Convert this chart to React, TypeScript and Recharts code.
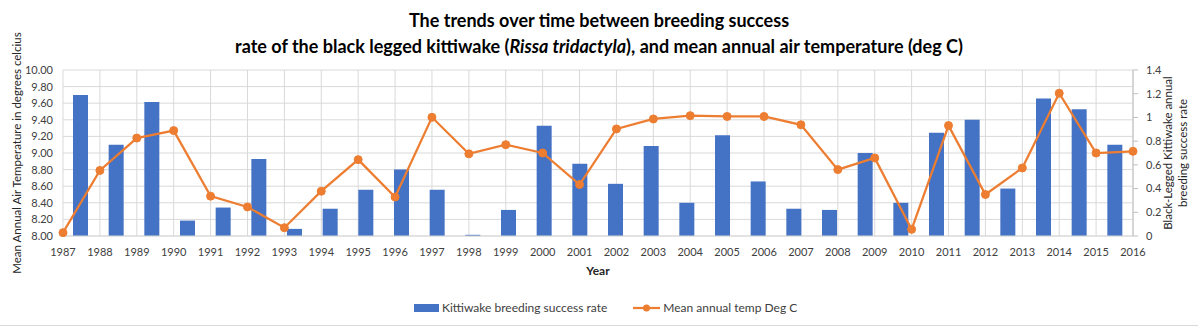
import {
  ComposedChart,
  Bar,
  Line,
  XAxis,
  YAxis,
  CartesianGrid,
  Label,
} from "recharts";

// ── data ──
const years = [
  1987, 1988, 1989, 1990, 1991, 1992, 1993, 1994, 1995, 1996, 1997, 1998, 1999, 2000, 2001,
  2002, 2003, 2004, 2005, 2006, 2007, 2008, 2009, 2010, 2011, 2012, 2013, 2014, 2015, 2016,
];
const breedingRate = [
  1.19, 0.77, 1.13, 0.13, 0.24, 0.65, 0.06, 0.23, 0.39, 0.56, 0.39, 0.01, 0.22, 0.93, 0.61,
  0.44, 0.76, 0.28, 0.85, 0.46, 0.23, 0.22, 0.7, 0.28, 0.87, 0.98, 0.4, 1.16, 1.07, 0.77,
];
const meanTemp = [
  8.04, 8.79, 9.18, 9.27, 8.48, 8.35, 8.1, 8.54, 8.92, 8.47, 9.43, 8.99, 9.1, 9.0, 8.62,
  9.29, 9.41, 9.45, 9.44, 9.44, 9.34, 8.8, 8.94, 8.08, 9.33, 8.5, 8.82, 9.72, 9.0, 9.02,
];
const tempTicks = [8, 8.2, 8.4, 8.6, 8.8, 9, 9.2, 9.4, 9.6, 9.8, 10];
const rateTicks = [0, 0.2, 0.4, 0.6, 0.8, 1, 1.2, 1.4];

const data = years.map((year, i) => ({
  year,
  rate: breedingRate[i],
  temp: meanTemp[i],
}));

const FONT = "Lato, 'Noto Sans', sans-serif";
const BLUE = "#4472C4";
const ORANGE = "#ED7D31";
const GRID = "#d9d9d9";
const TEXT = "#404040";

const tickStyle = { fill: TEXT, fontSize: 11, fontFamily: FONT };

const LeftTitle = ({ viewBox }: any) => {
  const cy = viewBox.y + viewBox.height / 2;
  return (
    <text
      x={16}
      y={cy}
      transform={`rotate(-90, 16, ${cy})`}
      textAnchor="middle"
      dominantBaseline="central"
      fill="#262626"
      fontSize={11.5}
      fontFamily={FONT}
    >
      Mean Annual Air Temperature in degrees celcius
    </text>
  );
};

const RightTitle = ({ viewBox }: any) => {
  const cy = viewBox.y + viewBox.height / 2;
  return (
    <g>
      {["Black-Legged Kittiwake annual", "breeding success rate"].map((t, i) => {
        const x = 1167 + i * 15;
        return (
          <text
            key={t}
            x={x}
            y={cy}
            transform={`rotate(-90, ${x}, ${cy})`}
            textAnchor="middle"
            dominantBaseline="central"
            fill="#262626"
            fontSize={11.5}
            fontFamily={FONT}
          >
            {t}
          </text>
        );
      })}
    </g>
  );
};

export default function App() {
  return (
    <div
      style={{
        position: "absolute",
        left: 0,
        top: 0,
        width: 1198,
        height: 328,
        background: "#fff",
        fontFamily: FONT,
      }}
    >
      <div
        style={{
          position: "absolute",
          top: 7,
          left: 0,
          width: 1198,
          textAlign: "center",
          fontSize: 18,
          fontWeight: 700,
          lineHeight: "26px",
          color: "#000",
        }}
      >
        The trends over time between breeding success
        <br />
        rate of the black legged kittiwake (<i>Rissa tridactyla</i>), and mean annual air
        temperature (deg C)
      </div>

      <ComposedChart
        width={1198}
        height={328}
        data={data}
        margin={{ top: 70, right: 0, bottom: 47, left: 0 }}
      >
        <CartesianGrid stroke={GRID} xAxisId="line" yAxisId="left" />
        <XAxis xAxisId="bar" dataKey="year" type="category" hide height={0} />
        <XAxis
          xAxisId="line"
          dataKey="year"
          type="number"
          domain={[1987, 2016]}
          ticks={years}
          interval={0}
          height={45}
          tick={tickStyle}
          tickMargin={6}
          tickLine={false}
          axisLine={{ stroke: GRID }}
        >
          <Label
            value="Year"
            position="insideBottom"
            offset={6}
            style={{ fill: "#262626", fontSize: 12, fontWeight: 700, fontFamily: FONT }}
          />
        </XAxis>
        <YAxis
          yAxisId="left"
          domain={[8, 10]}
          ticks={tempTicks}
          interval={0}
          width={63}
          tick={tickStyle}
          tickMargin={4}
          tickFormatter={(v: number) => v.toFixed(2)}
          tickLine={false}
          axisLine={false}
        >
          <Label content={LeftTitle} />
        </YAxis>
        <YAxis
          yAxisId="right"
          orientation="right"
          domain={[0, 1.4]}
          ticks={rateTicks}
          interval={0}
          width={65}
          tick={tickStyle}
          tickFormatter={(v: number) => String(Math.round(v * 10) / 10)}
          tickLine={{ stroke: "#bfbfbf" }}
          tickSize={5}
          tickMargin={8}
          axisLine={{ stroke: "#bfbfbf" }}
        >
          <Label content={RightTitle} />
        </YAxis>
        <Bar
          xAxisId="bar"
          yAxisId="right"
          dataKey="rate"
          fill={BLUE}
          barSize={15}
          isAnimationActive={false}
        />
        <Line
          xAxisId="line"
          yAxisId="left"
          dataKey="temp"
          stroke={ORANGE}
          strokeWidth={2.25}
          dot={{ r: 4, fill: ORANGE, stroke: ORANGE, strokeWidth: 1 }}
          isAnimationActive={false}
        />
      </ComposedChart>

      {/* legend */}
      <div
        style={{
          position: "absolute",
          top: 300,
          left: 0,
          width: 1198,
          display: "flex",
          alignItems: "center",
          fontSize: 12,
          color: TEXT,
        }}
      >
        <span
          style={{ marginLeft: 414, width: 25, height: 8, background: BLUE, display: "inline-block" }}
        />
        <span style={{ marginLeft: 3 }}>Kittiwake breeding success rate</span>
        <svg width={27} height={10} style={{ marginLeft: 26 }}>
          <line x1={0} y1={5} x2={27} y2={5} stroke={ORANGE} strokeWidth={2.25} />
          <circle cx={13.5} cy={5} r={3.5} fill={ORANGE} />
        </svg>
        <span style={{ marginLeft: 3 }}>Mean annual temp Deg C</span>
      </div>
      <div
        style={{ position: "absolute", top: 325, left: 0, width: 1198, height: 1, background: GRID }}
      />
    </div>
  );
}
